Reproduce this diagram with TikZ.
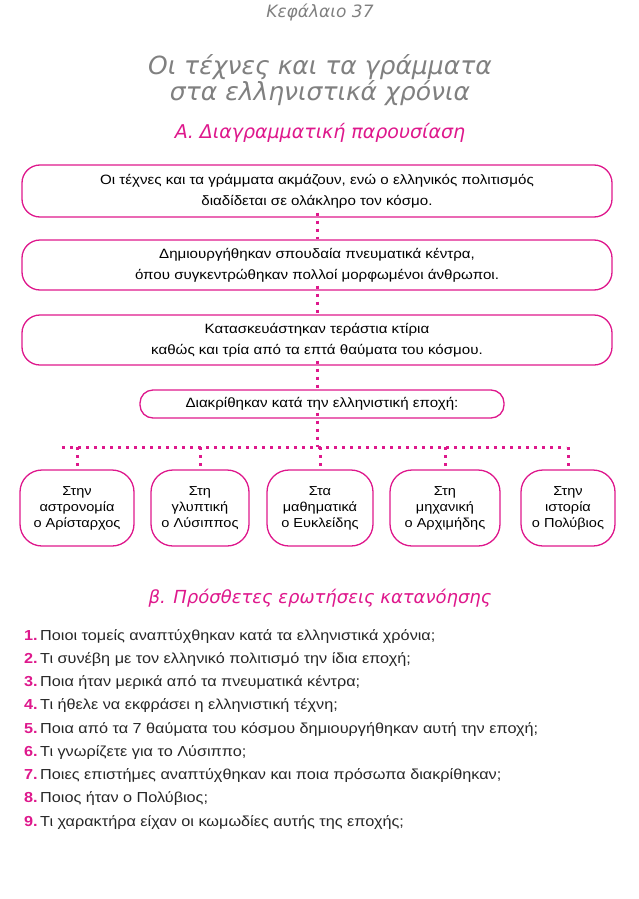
\documentclass[tikz,border=0pt]{standalone}
\usepackage{fontspec}
\setmainfont{Liberation Sans}[FakeStretch=1.12]
\newfontfamily\titlefont{DejaVu Sans}
\begin{document}
\begin{tikzpicture}[x=1pt,y=-1pt,
 mag/.style={draw=magc,line width=1.3pt,rounded corners=18pt,align=center,font=\fontsize{13.5}{21}\selectfont,inner sep=0pt},
 dotl/.style={magc,line width=3pt,dash pattern=on 3pt off 5pt},
 qnum/.style={anchor=base west,font=\fontsize{14.5}{16}\selectfont\bfseries,text=magc,inner sep=0pt},
 qtxt/.style={anchor=base west,font=\fontsize{14.5}{16}\selectfont,text=black!85,inner sep=0pt}]
\definecolor{magc}{RGB}{222,24,140}
\useasboundingbox (0,0) rectangle (638,899);
\node[text=black!50,font=\titlefont\itshape\fontsize{17}{19}\selectfont] (ch) at (320,12) {Κεφάλαιο 37};
\node[text=black!50,font=\titlefont\itshape\fontsize{25}{26}\selectfont,align=center] (tt) at (320,80) {Οι τέχνες και τα γράμματα\\στα ελληνιστικά χρόνια};
\node[text=magc,font=\titlefont\itshape\fontsize{19}{22}\selectfont] (ha) at (320,133) {Α. Διαγραμματική παρουσίαση};
\node[mag,minimum width=590pt,minimum height=52pt] (b1) at (317,191) {Οι τέχνες και τα γράμματα ακμάζουν, ενώ ο ελληνικός πολιτισμός\\διαδίδεται σε ολάκληρο τον κόσμο.};
\node[mag,minimum width=590pt,minimum height=50pt] (b2) at (317,265) {Δημιουργήθηκαν σπουδαία πνευματικά κέντρα,\\όπου συγκεντρώθηκαν πολλοί μορφωμένοι άνθρωποι.};
\node[mag,minimum width=590pt,minimum height=50pt] (b3) at (317,340) {Κατασκευάστηκαν τεράστια κτίρια\\καθώς και τρία από τα επτά θαύματα του κόσμου.};
\node[mag,minimum width=364pt,minimum height=28pt,rounded corners=13pt] (b4) at (322,404) {Διακρίθηκαν κατά την ελληνιστική εποχή:};
\draw[dotl] ([yshift=5pt]b1.south) -- (b2.north);
\draw[dotl] ([yshift=5pt]b2.south) -- (b3.north);
\draw[dotl] ([yshift=5pt]b3.south) -- (b3.south |- b4.north);
\foreach \n/\x/\w/\t in {c1/77/114/{Στην\\αστρονομία\\ο Αρίσταρχος},c2/200/98/{Στη\\γλυπτική\\ο Λύσιππος},c3/320/106/{Στα\\μαθηματικά\\ο Ευκλείδης},c4/445/110/{Στη\\μηχανική\\ο Αρχιμήδης},c5/568/94/{Στην\\ιστορία\\ο Πολύβιος}}{
 \node[mag,minimum width=\w pt,minimum height=76pt,font=\fontsize{13}{16}\selectfont,rounded corners=22pt] (\n) at (\x,508) {\t};
}
\coordinate (hl) at (62,447);
\coordinate (hr) at (566,447);
\draw[dotl] (hl) -- (hr);
\draw[dotl] ([yshift=6pt]b3.south |- b4.south) -- (b3.south |- hl);
\foreach \n in {c1,c2,c3,c4,c5}{\draw[dotl] (\n.north |- hl) -- (\n.north);}
\node[text=magc,font=\titlefont\itshape\fontsize{18}{21}\selectfont] (hb) at (320,598) {β. Πρόσθετες ερωτήσεις κατανόησης};
\foreach \i/\y/\t in {1/640/Ποιοι τομείς αναπτύχθηκαν κατά τα ελληνιστικά χρόνια;,
2/663/Τι συνέβη με τον ελληνικό πολιτισμό την ίδια εποχή;,
3/686/Ποια ήταν μερικά από τα πνευματικά κέντρα;,
4/709/Τι ήθελε να εκφράσει η ελληνιστική τέχνη;,
5/733/Ποια από τα 7 θαύματα του κόσμου δημιουργήθηκαν αυτή την εποχή;,
6/756/Τι γνωρίζετε για το Λύσιππο;,
7/779/Ποιες επιστήμες αναπτύχθηκαν και ποια πρόσωπα διακρίθηκαν;,
8/802/Ποιος ήταν ο Πολύβιος;,
9/826/Τι χαρακτήρα είχαν οι κωμωδίες αυτής της εποχής;}{
 \node[qnum] (n\i) at (24,\y) {\i.};
 \node[qtxt] (q\i) at (40,\y) {\t};
}
\end{tikzpicture}
\end{document}
